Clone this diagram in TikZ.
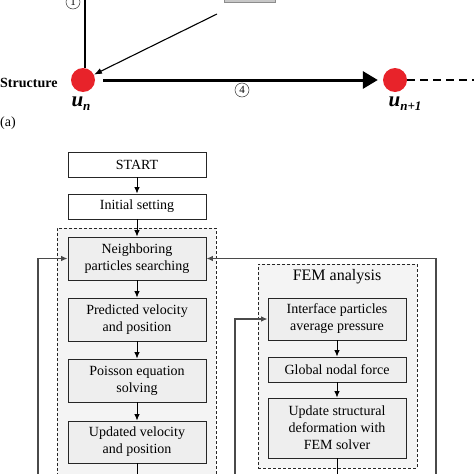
\documentclass[tikz,border=0pt]{standalone}
\usepackage{fontspec}
\setmainfont{Liberation Serif}
\usetikzlibrary{arrows.meta}
\definecolor{boxfill}{HTML}{EEEEEE}
\definecolor{grpfill}{HTML}{F4F4F4}
\definecolor{loopcol}{HTML}{4A4A4A}
\definecolor{dotred}{HTML}{E8232A}
\begin{document}
\begin{tikzpicture}[x=1pt,y=-1pt,
  proc/.style={draw=black!85, fill=boxfill, line width=0.9pt, minimum width=138pt, inner sep=0pt, align=center, font=\fontsize{14}{17}\selectfont},
  plain/.style={proc, fill=white},
  grp/.style={draw=black!85, fill=grpfill, dashed, dash pattern=on 3pt off 2pt, line width=0.9pt, inner sep=0pt},
  flow/.style={line width=0.9pt, -{Latex[length=6.5pt,width=5.5pt]}},
  loop/.style={draw=loopcol, line width=1.1pt, -{Latex[length=6.5pt,width=5.5pt]}},
  dot/.style={circle, fill=dotred, minimum size=24pt, inner sep=0pt},
  num/.style={circle, draw=black!80, line width=0.5pt, minimum size=14pt, inner sep=0pt, font=\fontsize{11}{11}\selectfont}
]
\useasboundingbox (0,0) rectangle (474,474);

% ---- part (a) ----
\node[draw=black!45, fill=black!22, minimum width=51pt, minimum height=20pt, inner sep=0pt] (gb) at (249.5,-8) {};
\node[dot] (un) at (83,80) {};
\node[dot] (un1) at (395,80) {};
\coordinate (top1) at (85,-5);
\coordinate (c1) at (217,14);
\coordinate (dashend) at (478,80);
\draw[line width=1.4pt] (top1) -- (85,68);
\draw[line width=1.1pt, -{Latex[length=8pt,width=6pt]}] (c1) -- (un);
\draw[line width=3pt, -{Triangle[length=15pt,width=17pt]}, shorten <=8pt, shorten >=5pt] (un) -- (un1);
\draw[line width=1.3pt, dash pattern=on 8pt off 5pt] (un1) -- (dashend);
\node[num] (n1) at (73,2) {1};
\node[num] (n4) at (242,90) {4};
\node[anchor=east, font=\fontsize{14}{14}\selectfont\bfseries] (st) at (61,83) {Structure};
\node[font=\fontsize{21}{21}\selectfont\bfseries\itshape] (lun) at (81,104) {u\raisebox{-4pt}{\fontsize{13}{13}\selectfont n}};
\node[font=\fontsize{21}{21}\selectfont\bfseries\itshape] (lun1) at (405,104) {u\raisebox{-4pt}{\fontsize{13}{13}\selectfont n+1}};
\node[font=\fontsize{14}{14}\selectfont] (a) at (8,123) {(a)};

% ---- flowchart ----
\node[grp, minimum width=159pt, minimum height=252pt] (lbox) at (136.5,354) {};
\node[grp, minimum width=159pt, minimum height=204pt] (rbox) at (337.5,366) {};

\node[plain, minimum height=25pt] (start) at (137,164.5) {START};
\node[plain, minimum height=25pt] (init) at (137,206.5) {Initial setting};
\node[proc, minimum height=43pt] (neigh) at (137,258.5) {Neighboring\\particles searching};
\node[proc, minimum height=43pt] (pred) at (137,319.5) {Predicted velocity\\and position};
\node[proc, minimum height=43pt] (pois) at (137,380.5) {Poisson equation\\solving};
\node[proc, minimum height=42pt] (upd) at (137,442) {Updated velocity\\and position};

\node[font=\fontsize{16}{16}\selectfont] (femt) at (337,277) {FEM analysis};
\node[proc, minimum height=42pt] (iface) at (337,319) {Interface particles\\average pressure};
\node[proc, minimum height=25pt] (glob) at (337,369.5) {Global nodal force};
\node[proc, minimum height=60pt] (ufem) at (337,428) {Update structural\\deformation with\\FEM solver};

\coordinate (L0) at (38,480);
\coordinate (R0) at (436,480);
\coordinate (M0) at (235,480);
\coordinate (F0) at (337,482);
\coordinate (U0) at (137,482);

\draw[flow] (start) -- (init);
\draw[flow] (init) -- (neigh);
\draw[flow] (neigh) -- (pred);
\draw[flow] (pred) -- (pois);
\draw[flow] (pois) -- (upd);
\draw[flow] (upd) -- (U0);
\draw[flow] (iface) -- (glob);
\draw[flow] (glob) -- (ufem);
\draw[flow] (ufem) -- (F0);
\draw[loop] (L0) |- (neigh.west);
\draw[loop] (R0) |- (neigh.east);
\draw[loop] (M0) |- (iface.west);
\end{tikzpicture}
\end{document}
